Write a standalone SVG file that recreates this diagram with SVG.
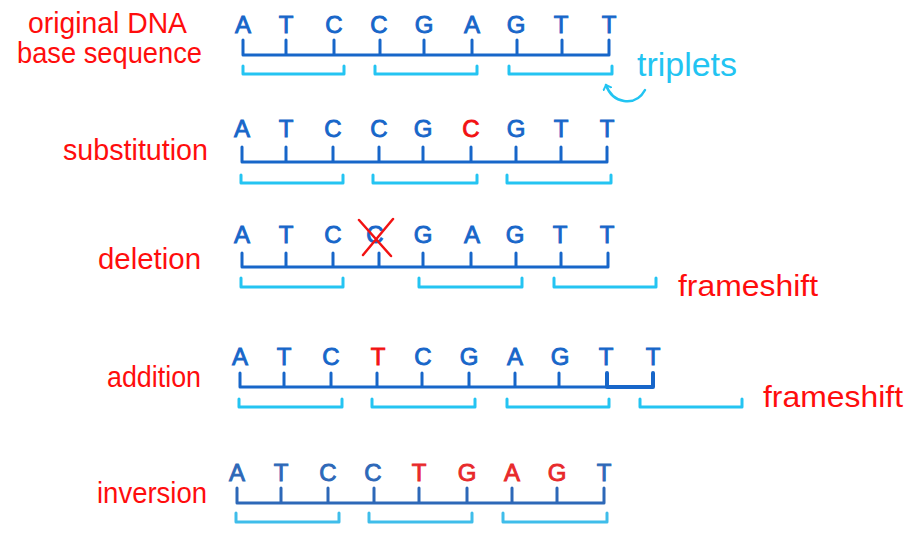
<svg xmlns="http://www.w3.org/2000/svg" width="913" height="540" viewBox="0 0 913 540">
<defs>
<style>
.lbl{font-family:"Liberation Sans","Noto Sans",sans-serif;font-size:30px;fill:#ff0d0d;}
.cy{font-family:"Liberation Sans","Noto Sans",sans-serif;font-size:33px;fill:#22c4f2;}
.b{font-family:"Liberation Sans","Noto Sans",sans-serif;font-size:24px;fill:#1766c9;stroke:#1766c9;stroke-width:0.9;text-anchor:middle;}
.r{fill:#f21212;stroke:#f21212;}
.bb{fill:none;stroke:#1766c9;stroke-width:3;stroke-linecap:round;stroke-linejoin:round;}
.br{fill:none;stroke:#24c4f2;stroke-width:3;stroke-linecap:round;stroke-linejoin:round;}
.b5{fill:#2d68b8;stroke:#2d68b8;}
.r5{fill:#e8292b;stroke:#e8292b;}
.bb5{stroke:#2d68b8;}
.br5{stroke:#3fbdea;}
</style>
<marker id="ah" viewBox="0 0 10 10" refX="5" refY="5" markerWidth="10" markerHeight="10" markerUnits="userSpaceOnUse" orient="auto">
<polyline points="1,1 5,5 1,9" fill="none" stroke="#22c4f2" stroke-width="2" stroke-linecap="round"/>
</marker>
</defs>
<rect width="913" height="540" fill="#ffffff"/>

<g id="row-original">
<text class="lbl" x="28" y="33" textLength="159" lengthAdjust="spacingAndGlyphs">original DNA</text>
<text class="lbl" x="17" y="63" textLength="185" lengthAdjust="spacingAndGlyphs">base sequence</text>
<g>
<text class="b" x="243" y="33">A</text><text class="b" x="286" y="33">T</text><text class="b" x="334" y="33">C</text>
<text class="b" x="379" y="33">C</text><text class="b" x="424" y="33">G</text><text class="b" x="472" y="33">A</text>
<text class="b" x="516" y="33">G</text><text class="b" x="561" y="33">T</text><text class="b" x="609" y="33">T</text>
</g>
<path class="bb" d="M243 40V55H609V40M286 40V55M334 40V55M380 40V55M424 40V55M472 40V55M517 40V55M562 40V55"/>
<path class="br" d="M243 66V74H344V66M375 66V74H477V66M509 66V74H612V66"/>
</g>

<g id="triplets-label">
<text class="cy" x="637" y="76" textLength="100" lengthAdjust="spacingAndGlyphs">triplets</text>
</g>

<g id="row-substitution">
<text class="lbl" x="63" y="160" textLength="145" lengthAdjust="spacingAndGlyphs">substitution</text>
<text class="b" x="242" y="137">A</text><text class="b" x="286" y="137">T</text><text class="b" x="333" y="137">C</text>
<text class="b" x="379" y="137">C</text><text class="b" x="423" y="137">G</text><text class="b r" x="471" y="137">C</text>
<text class="b" x="516" y="137">G</text><text class="b" x="561" y="137">T</text><text class="b" x="607" y="137">T</text>
<path class="bb" d="M242 147V162H607V147M286 147V162M333 147V162M379 147V162M423 147V162M471 147V162M516 147V162M561 147V162"/>
<path class="br" d="M241 175V183H343V175M373 175V183H477V175M507 175V183H611V175"/>
</g>

<g id="row-deletion">
<text class="lbl" x="98" y="269" textLength="103" lengthAdjust="spacingAndGlyphs">deletion</text>
<text class="b" x="242" y="243">A</text><text class="b" x="286" y="243">T</text><text class="b" x="333" y="243">C</text>
<text class="b" x="375" y="243">C</text><text class="b" x="423" y="243">G</text><text class="b" x="472" y="243">A</text>
<text class="b" x="515" y="243">G</text><text class="b" x="560" y="243">T</text><text class="b" x="607" y="243">T</text>
<path class="bb" d="M242 253V267H608V253M286 253V267M333 253V267M379 253V267M423 253V267M471 253V267M516 253V267M561 253V267"/>
<path d="M359 220L391 256M393 219L363 255" fill="none" stroke="#f21212" stroke-width="2.5" stroke-linecap="round"/>
<path class="br" d="M241 278V287H343V278M419 278V287H522V278M554 278V287H656V278"/>
<text class="lbl" x="678" y="296" textLength="140" lengthAdjust="spacingAndGlyphs">frameshift</text>
</g>

<g id="row-addition">
<text class="lbl" x="107" y="387" textLength="94" lengthAdjust="spacingAndGlyphs">addition</text>
<text class="b" x="240" y="365">A</text><text class="b" x="284" y="365">T</text><text class="b" x="331" y="365">C</text>
<text class="b r" x="378" y="365">T</text><text class="b" x="423" y="365">C</text><text class="b" x="469" y="365">G</text>
<text class="b" x="515" y="365">A</text><text class="b" x="560" y="365">G</text><text class="b" x="606" y="365">T</text>
<text class="b" x="653" y="365">T</text>
<path class="bb" d="M240 373V387H607M284 373V387M331 373V387M377 373V387M422 373V387M469 373V387M515 373V387M559 373V387"/>
<path class="bb" style="stroke-width:4" d="M607 373V387H653V373"/>
<path class="br" d="M239 399V407H342V399M372 399V407H475V399M507 399V407H609V399M640 399V407H742V399"/>
<text class="lbl" x="763" y="407" textLength="140" lengthAdjust="spacingAndGlyphs">frameshift</text>
</g>

<g id="row-inversion">
<text class="lbl" x="97" y="503" textLength="110" lengthAdjust="spacingAndGlyphs">inversion</text>
<text class="b b5" x="237" y="481">A</text><text class="b b5" x="281" y="481">T</text><text class="b b5" x="328" y="481">C</text>
<text class="b b5" x="373" y="481">C</text><text class="b r5" x="419" y="481">T</text><text class="b r5" x="467" y="481">G</text>
<text class="b r5" x="512" y="481">A</text><text class="b r5" x="557" y="481">G</text><text class="b b5" x="604" y="481">T</text>
<path class="bb bb5" d="M237 488V503H604V488M281 488V503M328 488V503M374 488V503M419 488V503M467 488V503M512 488V503M557 488V503"/>
<path class="br br5" d="M236 513V522H339V513M369 513V522H472V513M503 513V522H607V513"/>
</g>

<g id="connectors">
<path d="M645 90Q638 103 624 101Q611 99 606 85" fill="none" stroke="#22c4f2" stroke-width="2.5" stroke-linecap="round" marker-end="url(#ah)"/>
</g>
</svg>
